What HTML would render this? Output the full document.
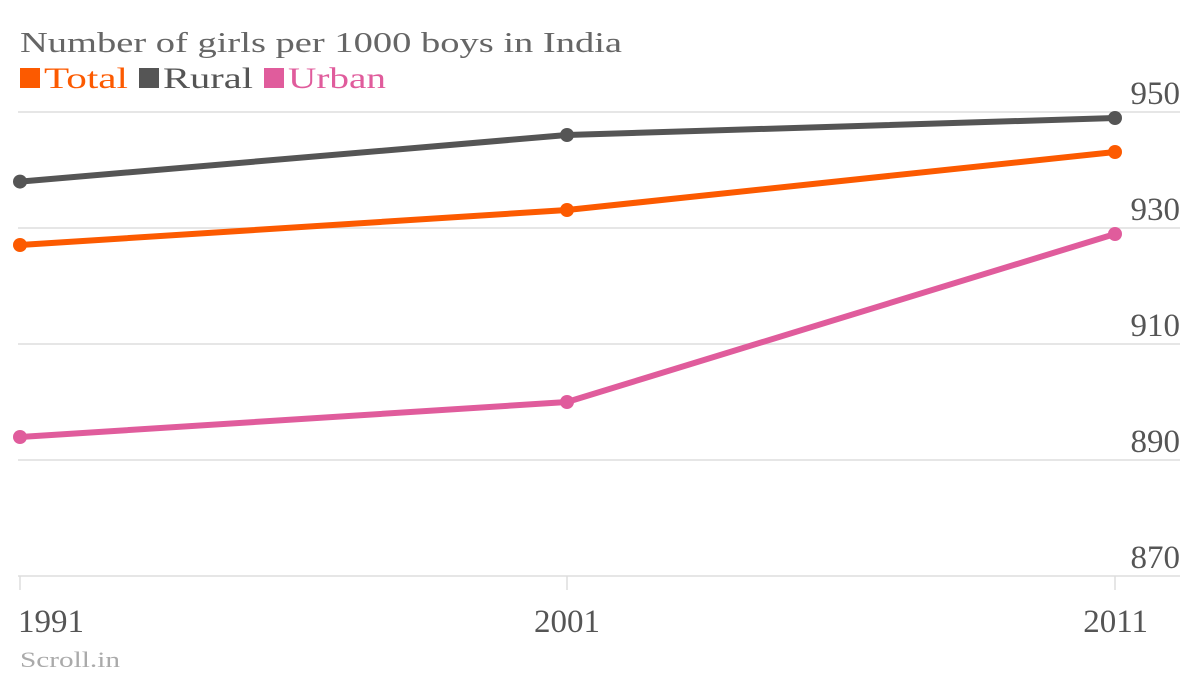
<!DOCTYPE html>
<html><head><meta charset="utf-8"><style>
html,body{margin:0;padding:0;background:#fff;width:1200px;height:676px;overflow:hidden}
svg text{font-family:"Liberation Serif",serif}
</style></head><body>
<svg width="1200" height="676" viewBox="0 0 1200 676" xmlns="http://www.w3.org/2000/svg">
<text x="20" y="52" font-size="29" fill="#666" textLength="602" lengthAdjust="spacingAndGlyphs">Number of girls per 1000 boys in India</text>
<rect x="20" y="68" width="20" height="20" fill="#fc5a00"/>
<text x="44" y="88" font-size="30" fill="#fc5a00" textLength="84" lengthAdjust="spacingAndGlyphs">Total</text>
<rect x="139" y="68" width="20" height="20" fill="#555"/>
<text x="163" y="88" font-size="30" fill="#555" textLength="90" lengthAdjust="spacingAndGlyphs">Rural</text>
<rect x="264" y="68" width="20" height="20" fill="#e05c9c"/>
<text x="288" y="88" font-size="30" fill="#e05c9c" textLength="98" lengthAdjust="spacingAndGlyphs">Urban</text>
<g stroke="#ddd" stroke-width="1.5">
<line x1="18" y1="112" x2="1180" y2="112"/>
<line x1="18" y1="228" x2="1180" y2="228"/>
<line x1="18" y1="344" x2="1180" y2="344"/>
<line x1="18" y1="460" x2="1180" y2="460"/>
<line x1="18" y1="576" x2="1180" y2="576"/>
<line x1="20" y1="576" x2="20" y2="590"/>
<line x1="567" y1="576" x2="567" y2="590"/>
<line x1="1115" y1="576" x2="1115" y2="590"/>
</g>
<g font-size="33" fill="#555" text-anchor="end">
<text x="1180" y="104">950</text>
<text x="1180" y="220">930</text>
<text x="1180" y="336">910</text>
<text x="1180" y="452">890</text>
<text x="1180" y="568">870</text>
</g>
<g font-size="33" fill="#555">
<text x="18" y="632">1991</text>
<text x="567" y="632" text-anchor="middle">2001</text>
<text x="1148" y="632" text-anchor="end">2011</text>
</g>
<text x="20" y="667" font-size="22" fill="#aaa" textLength="100" lengthAdjust="spacingAndGlyphs">Scroll.in</text>
<g stroke-width="6" fill="none" stroke-linejoin="round">
<polyline points="20,181.6 567,135 1115,118" stroke="#555"/>
<polyline points="20,245 567,210 1115,152" stroke="#fc5a00"/>
<polyline points="20,437 567,402 1115,234" stroke="#e05c9c"/>
</g>
<g fill="#555"><circle cx="20" cy="181.6" r="7"/><circle cx="567" cy="135" r="7"/><circle cx="1115" cy="118" r="7"/></g>
<g fill="#fc5a00"><circle cx="20" cy="245" r="7"/><circle cx="567" cy="210" r="7"/><circle cx="1115" cy="152" r="7"/></g>
<g fill="#e05c9c"><circle cx="20" cy="437" r="7"/><circle cx="567" cy="402" r="7"/><circle cx="1115" cy="234" r="7"/></g>
</svg>
</body></html>
